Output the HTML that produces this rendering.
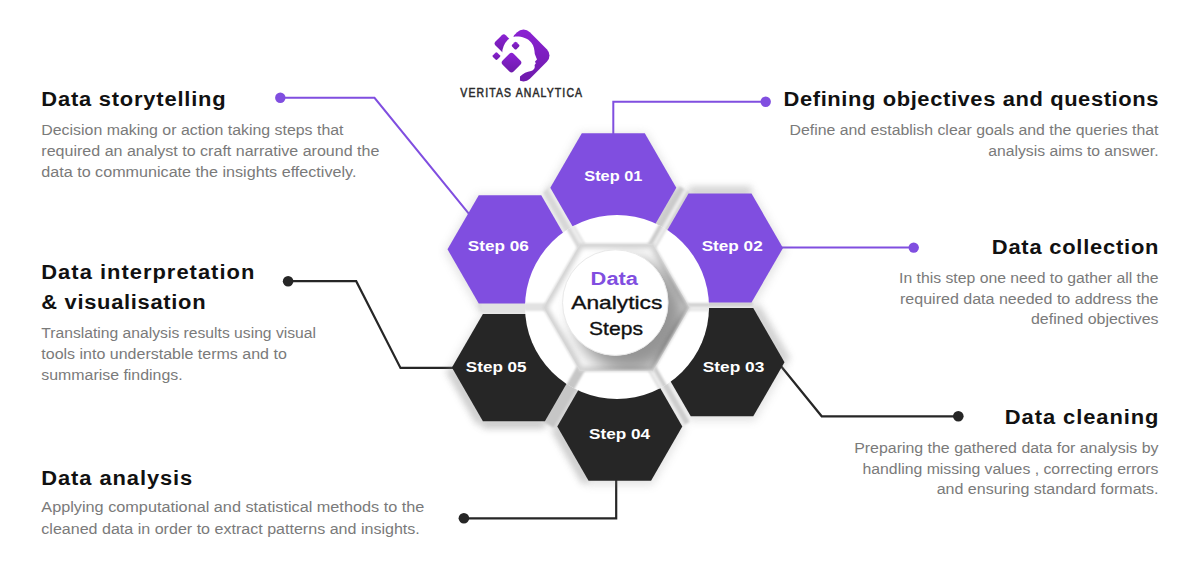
<!DOCTYPE html>
<html><head><meta charset="utf-8"><style>
html,body{margin:0;padding:0;background:#fff;width:1200px;height:569px;overflow:hidden}
svg{display:block;font-family:"Liberation Sans",sans-serif}
</style></head><body>
<svg width="1200" height="569" viewBox="0 0 1200 569">
<defs>
<filter id="blur1" x="-20%" y="-20%" width="140%" height="140%"><feGaussianBlur stdDeviation="1"/></filter>
<filter id="blur2" x="-20%" y="-20%" width="140%" height="140%"><feGaussianBlur stdDeviation="2.5"/></filter>
<filter id="blur3" x="-30%" y="-30%" width="160%" height="160%"><feGaussianBlur stdDeviation="3.5"/></filter>
<filter id="blur4" x="-30%" y="-30%" width="160%" height="160%"><feGaussianBlur stdDeviation="4"/></filter>
<filter id="cshadow" x="-40%" y="-40%" width="180%" height="180%"><feGaussianBlur stdDeviation="9"/></filter>
<clipPath id="disk"><circle cx="617" cy="307" r="92"/></clipPath>
<linearGradient id="chg" x1="0.2" y1="0.1" x2="0.8" y2="0.9"><stop offset="0" stop-color="#f2f2f2"/><stop offset="0.5" stop-color="#e2e2e2"/><stop offset="1" stop-color="#c4c4c4"/></linearGradient>
<linearGradient id="logog" x1="0" y1="0" x2="1" y2="1"><stop offset="0" stop-color="#8d22d6"/><stop offset="1" stop-color="#6c1aa8"/></linearGradient>
</defs>
<polyline points="280.3,97.8 374.5,97.8 469.2,214.1" fill="none" stroke="#804ee0" stroke-width="2"/>
<circle cx="280.3" cy="97.8" r="5.2" fill="#804ee0"/>
<polyline points="765.7,101.8 613.3,101.8 613.3,140" fill="none" stroke="#804ee0" stroke-width="2"/>
<circle cx="765.7" cy="101.8" r="5.2" fill="#804ee0"/>
<polyline points="913.7,247.6 775,247.6" fill="none" stroke="#804ee0" stroke-width="2"/>
<circle cx="913.7" cy="247.6" r="5.2" fill="#804ee0"/>
<polyline points="958.3,416.3 821.7,416.3 776,360" fill="none" stroke="#262626" stroke-width="2.2"/>
<circle cx="958.3" cy="416.3" r="5.3" fill="#262626"/>
<polyline points="288.1,281.2 356.2,281.2 400.5,367.9 460,367.9" fill="none" stroke="#262626" stroke-width="2.2"/>
<circle cx="288.1" cy="281.2" r="5.3" fill="#262626"/>
<polyline points="463.9,518.3 616.2,518.3 616.2,470" fill="none" stroke="#262626" stroke-width="2.2"/>
<circle cx="463.9" cy="518.3" r="5.3" fill="#262626"/>
<g filter="url(#blur4)" opacity="0.22">
<polygon points="679.30,189.80 646.30,246.96 580.30,246.96 547.30,189.80 580.30,132.64 646.30,132.64" fill="#8a8a8a"/>
<polygon points="786.00,250.00 753.00,307.16 687.00,307.16 654.00,250.00 687.00,192.84 753.00,192.84" fill="#8a8a8a"/>
<polygon points="787.50,364.20 754.75,420.92 689.25,420.92 656.50,364.20 689.25,307.48 754.75,307.48" fill="#8a8a8a"/>
<polygon points="685.30,428.50 652.55,485.22 587.05,485.22 554.30,428.50 587.05,371.78 652.55,371.78" fill="#8a8a8a"/>
<polygon points="578.90,369.60 546.40,425.89 481.40,425.89 448.90,369.60 481.40,313.31 546.40,313.31" fill="#8a8a8a"/>
<polygon points="575.50,251.30 542.75,308.02 477.25,308.02 444.50,251.30 477.25,194.58 542.75,194.58" fill="#8a8a8a"/>
</g>
<g filter="url(#blur3)" opacity="0.38">
<line x1="678.90" y1="189.30" x2="647.40" y2="243.86" stroke="#8a8a8a" stroke-width="8"/>
<line x1="579.20" y1="243.86" x2="547.70" y2="189.30" stroke="#8a8a8a" stroke-width="8"/>
<line x1="688.50" y1="190.44" x2="751.50" y2="190.44" stroke="#8a8a8a" stroke-width="8"/>
<line x1="755.85" y1="306.57" x2="787.10" y2="360.70" stroke="#8a8a8a" stroke-width="8"/>
<line x1="585.95" y1="482.13" x2="554.70" y2="428.00" stroke="#8a8a8a" stroke-width="8"/>
<line x1="554.70" y1="425.00" x2="585.95" y2="370.87" stroke="#8a8a8a" stroke-width="8"/>
<line x1="544.90" y1="424.29" x2="482.90" y2="424.29" stroke="#8a8a8a" stroke-width="8"/>
<line x1="480.30" y1="422.79" x2="449.30" y2="369.10" stroke="#8a8a8a" stroke-width="8"/>
<line x1="541.25" y1="306.43" x2="478.75" y2="306.43" stroke="#8a8a8a" stroke-width="8"/>
</g>
<g filter="url(#blur1)"><line x1="686.50" y1="307.00" x2="752.50" y2="307.00" stroke="#d0d0d0" stroke-width="10"/>
<line x1="686.50" y1="308.50" x2="752.50" y2="308.50" stroke="#ececec" stroke-width="4"/>
<line x1="651.50" y1="367.62" x2="684.50" y2="424.78" stroke="#cdcdcd" stroke-width="12"/>
<line x1="650.20" y1="368.37" x2="683.20" y2="425.53" stroke="#ececec" stroke-width="4"/>
<line x1="581.50" y1="367.62" x2="548.50" y2="424.78" stroke="#c6c6c6" stroke-width="12"/>
<line x1="546.50" y1="307.00" x2="480.50" y2="307.00" stroke="#e2e2e2" stroke-width="10"/>
<line x1="581.50" y1="246.38" x2="548.50" y2="189.22" stroke="#d8d8d8" stroke-width="12"/>
<line x1="582.80" y1="245.63" x2="549.80" y2="188.47" stroke="#ececec" stroke-width="4"/>
<line x1="651.50" y1="246.38" x2="684.50" y2="189.22" stroke="#cbcbcb" stroke-width="12"/>
<line x1="652.80" y1="247.13" x2="685.80" y2="189.97" stroke="#ececec" stroke-width="4"/></g>
<polygon points="676.30,187.80 644.80,242.36 581.80,242.36 550.30,187.80 581.80,133.24 644.80,133.24" fill="#804ee0"/>
<polygon points="783.00,248.00 751.50,302.56 688.50,302.56 657.00,248.00 688.50,193.44 751.50,193.44" fill="#804ee0"/>
<polygon points="784.50,362.20 753.25,416.33 690.75,416.33 659.50,362.20 690.75,308.07 753.25,308.07" fill="#262626"/>
<polygon points="682.30,426.50 651.05,480.63 588.55,480.63 557.30,426.50 588.55,372.37 651.05,372.37" fill="#262626"/>
<polygon points="575.90,367.60 544.90,421.29 482.90,421.29 451.90,367.60 482.90,313.91 544.90,313.91" fill="#262626"/>
<polygon points="572.50,249.30 541.25,303.43 478.75,303.43 447.50,249.30 478.75,195.17 541.25,195.17" fill="#804ee0"/>
<circle cx="617" cy="307" r="92" fill="#ffffff"/>
<g clip-path="url(#disk)"><g filter="url(#blur1)"><line x1="686.50" y1="307.00" x2="752.50" y2="307.00" stroke="#d0d0d0" stroke-width="8"/>
<line x1="686.50" y1="308.50" x2="752.50" y2="308.50" stroke="#ececec" stroke-width="4"/>
<line x1="651.50" y1="367.62" x2="684.50" y2="424.78" stroke="#cdcdcd" stroke-width="9"/>
<line x1="650.20" y1="368.37" x2="683.20" y2="425.53" stroke="#ececec" stroke-width="4"/>
<line x1="581.50" y1="367.62" x2="548.50" y2="424.78" stroke="#c6c6c6" stroke-width="9"/>
<line x1="546.50" y1="307.00" x2="480.50" y2="307.00" stroke="#e2e2e2" stroke-width="8"/>
<line x1="581.50" y1="246.38" x2="548.50" y2="189.22" stroke="#d8d8d8" stroke-width="9"/>
<line x1="582.80" y1="245.63" x2="549.80" y2="188.47" stroke="#ececec" stroke-width="4"/>
<line x1="651.50" y1="246.38" x2="684.50" y2="189.22" stroke="#cbcbcb" stroke-width="9"/>
<line x1="652.80" y1="247.13" x2="685.80" y2="189.97" stroke="#ececec" stroke-width="4"/></g></g>
<clipPath id="chclip"><polygon points="689.50,307.50 653.00,370.72 580.00,370.72 543.50,307.50 580.00,244.28 653.00,244.28"/></clipPath>
<polygon points="689.50,307.50 653.00,370.72 580.00,370.72 543.50,307.50 580.00,244.28 653.00,244.28" fill="#ffffff"/>
<g clip-path="url(#chclip)">
<polygon points="689.50,307.50 653.00,370.72 580.00,370.72 543.50,307.50 580.00,244.28 653.00,244.28" fill="none" stroke="#d2d2d2" stroke-width="8" filter="url(#blur2)"/>
<circle cx="630" cy="316" r="56" fill="#000" opacity="0.42" filter="url(#cshadow)"/>
</g>
<polygon points="689.50,307.50 653.00,370.72 580.00,370.72 543.50,307.50 580.00,244.28 653.00,244.28" fill="none" stroke="#d6d6d6" stroke-width="2" filter="url(#blur1)"/>
<circle cx="615.3" cy="302.6" r="52.8" fill="#ffffff" stroke="#e9e9e9" stroke-width="1"/>
<text x="613.3" y="180.8" font-size="15.5" fill="#ffffff" font-weight="bold" text-anchor="middle" textLength="58" lengthAdjust="spacingAndGlyphs">Step 01</text>
<text x="732.2" y="251.0" font-size="15.5" fill="#ffffff" font-weight="bold" text-anchor="middle" textLength="61" lengthAdjust="spacingAndGlyphs">Step 02</text>
<text x="733.5" y="371.9" font-size="15.5" fill="#ffffff" font-weight="bold" text-anchor="middle" textLength="61.5" lengthAdjust="spacingAndGlyphs">Step 03</text>
<text x="619.5" y="438.8" font-size="15.5" fill="#ffffff" font-weight="bold" text-anchor="middle" textLength="61" lengthAdjust="spacingAndGlyphs">Step 04</text>
<text x="496.2" y="371.8" font-size="15.5" fill="#ffffff" font-weight="bold" text-anchor="middle" textLength="60.7" lengthAdjust="spacingAndGlyphs">Step 05</text>
<text x="498.3" y="251.0" font-size="15.5" fill="#ffffff" font-weight="bold" text-anchor="middle" textLength="61" lengthAdjust="spacingAndGlyphs">Step 06</text>
<text x="614.3" y="284.7" font-size="17.5" fill="#804ee0" font-weight="bold" text-anchor="middle" textLength="47.4" lengthAdjust="spacingAndGlyphs">Data</text>
<text stroke="#111" stroke-width="0.35" x="616.8" y="309.3" font-size="19" fill="#111" font-weight="normal" text-anchor="middle" textLength="91.2" lengthAdjust="spacingAndGlyphs">Analytics</text>
<text stroke="#111" stroke-width="0.35" x="616.0" y="334.7" font-size="19" fill="#111" font-weight="normal" text-anchor="middle" textLength="53.9" lengthAdjust="spacingAndGlyphs">Steps</text>
<text transform="translate(41.3,105.9) scale(1.07,1)" x="0" y="0" font-size="20.5" fill="#111111" font-weight="bold" text-anchor="start" textLength="172.24" lengthAdjust="spacing">Data storytelling</text>
<text x="41.3" y="135.4" font-size="14" fill="#7a7a7a" font-weight="normal" text-anchor="start" textLength="302.2" lengthAdjust="spacingAndGlyphs">Decision making or action taking steps that</text>
<text x="41.3" y="156.4" font-size="14" fill="#7a7a7a" font-weight="normal" text-anchor="start" textLength="338.1" lengthAdjust="spacingAndGlyphs">required an analyst to craft narrative around the</text>
<text x="41.3" y="177.1" font-size="14" fill="#7a7a7a" font-weight="normal" text-anchor="start" textLength="315.1" lengthAdjust="spacingAndGlyphs">data to communicate the insights effectively.</text>
<text transform="translate(41.3,279.2) scale(1.07,1)" x="0" y="0" font-size="20.5" fill="#111111" font-weight="bold" text-anchor="start" textLength="199.07" lengthAdjust="spacing">Data interpretation</text>
<text transform="translate(41.3,309.2) scale(1.07,1)" x="0" y="0" font-size="20.5" fill="#111111" font-weight="bold" text-anchor="start" textLength="153.55" lengthAdjust="spacing">&amp; visualisation</text>
<text x="41.3" y="338.4" font-size="14" fill="#7a7a7a" font-weight="normal" text-anchor="start" textLength="274.7" lengthAdjust="spacingAndGlyphs">Translating analysis results using visual</text>
<text x="41.3" y="359.3" font-size="14" fill="#7a7a7a" font-weight="normal" text-anchor="start" textLength="245.5" lengthAdjust="spacingAndGlyphs">tools into understable terms and to</text>
<text x="41.3" y="380.2" font-size="14" fill="#7a7a7a" font-weight="normal" text-anchor="start" textLength="141.3" lengthAdjust="spacingAndGlyphs">summarise findings.</text>
<text transform="translate(41.3,485.2) scale(1.07,1)" x="0" y="0" font-size="20.5" fill="#111111" font-weight="bold" text-anchor="start" textLength="141.12" lengthAdjust="spacing">Data analysis</text>
<text x="41.3" y="512.3" font-size="14" fill="#7a7a7a" font-weight="normal" text-anchor="start" textLength="383" lengthAdjust="spacingAndGlyphs">Applying computational and statistical methods to the</text>
<text x="41.3" y="534.0" font-size="14" fill="#7a7a7a" font-weight="normal" text-anchor="start" textLength="378.5" lengthAdjust="spacingAndGlyphs">cleaned data in order to extract patterns and insights.</text>
<text transform="translate(1158.5,106.2) scale(1.07,1)" x="0" y="0" font-size="20.5" fill="#111111" font-weight="bold" text-anchor="end" textLength="350.47" lengthAdjust="spacing">Defining objectives and questions</text>
<text x="1158.5" y="135.0" font-size="14" fill="#7a7a7a" font-weight="normal" text-anchor="end" textLength="369" lengthAdjust="spacingAndGlyphs">Define and establish clear goals and the queries that</text>
<text x="1158.5" y="155.7" font-size="14" fill="#7a7a7a" font-weight="normal" text-anchor="end" textLength="170.2" lengthAdjust="spacingAndGlyphs">analysis aims to answer.</text>
<text transform="translate(1158.5,254.3) scale(1.07,1)" x="0" y="0" font-size="20.5" fill="#111111" font-weight="bold" text-anchor="end" textLength="155.79" lengthAdjust="spacing">Data collection</text>
<text x="1158.5" y="283.0" font-size="14" fill="#7a7a7a" font-weight="normal" text-anchor="end" textLength="259.5" lengthAdjust="spacingAndGlyphs">In this step one need to gather all the</text>
<text x="1158.5" y="304.0" font-size="14" fill="#7a7a7a" font-weight="normal" text-anchor="end" textLength="258.5" lengthAdjust="spacingAndGlyphs">required data needed to address the</text>
<text x="1158.5" y="324.3" font-size="14" fill="#7a7a7a" font-weight="normal" text-anchor="end" textLength="127.5" lengthAdjust="spacingAndGlyphs">defined objectives</text>
<text transform="translate(1158.5,424.2) scale(1.07,1)" x="0" y="0" font-size="20.5" fill="#111111" font-weight="bold" text-anchor="end" textLength="143.64" lengthAdjust="spacing">Data cleaning</text>
<text x="1158.5" y="453.0" font-size="14" fill="#7a7a7a" font-weight="normal" text-anchor="end" textLength="304.3" lengthAdjust="spacingAndGlyphs">Preparing the gathered data for analysis by</text>
<text x="1158.5" y="473.7" font-size="14" fill="#7a7a7a" font-weight="normal" text-anchor="end" textLength="296" lengthAdjust="spacingAndGlyphs">handling missing values , correcting errors</text>
<text x="1158.5" y="494.4" font-size="14" fill="#7a7a7a" font-weight="normal" text-anchor="end" textLength="221.8" lengthAdjust="spacingAndGlyphs">and ensuring standard formats.</text>
<mask id="mhead" maskUnits="userSpaceOnUse" x="470" y="15" width="100" height="90">
<rect x="470" y="15" width="100" height="90" fill="#fff"/>
<path d="M470,15 L514,15 L513.6,36.9 C517,35.8 527,36.5 531.4,42.8 C534,46 534.5,50 534.8,54 L537,59.5 L535,61.5 L535.8,63.5 L534.6,65 L534.8,67 C534.5,69 533,70.5 531,71 C527,71.5 523,73.5 520,76.5 L519.5,105 L470,105 Z" fill="#000"/>
</mask>
<mask id="mback" maskUnits="userSpaceOnUse" x="470" y="15" width="100" height="90">
<rect x="470" y="15" width="100" height="90" fill="#fff"/>
<circle cx="521.5" cy="53.5" r="19.3" fill="#000"/>
</mask>
<g fill="url(#logog)">
<g mask="url(#mhead)"><rect x="502.5" y="34.5" width="42" height="42" rx="9" transform="rotate(45 523.5 55.5)"/></g>
<g mask="url(#mback)"><rect x="496.55" y="36.35" width="14.5" height="14.5" rx="2.8" transform="rotate(45 503.8 43.6)"/></g>
<rect x="512.5" y="42.6" width="6.2" height="6.2" rx="1.3" transform="rotate(45 515.6 45.7)"/>
<rect x="493.3" y="53" width="6.2" height="6.2" rx="1.3" transform="rotate(45 496.4 56.1)"/>
<rect x="503.75" y="54.95" width="15.5" height="15.5" rx="3" transform="rotate(45 511.5 62.7)"/>
</g>
<text transform="translate(521.2,96.7) scale(0.86,1)" x="0" y="0" font-size="12.2" fill="#2b2b2b" stroke="#2b2b2b" stroke-width="0.5" text-anchor="middle" textLength="141.6" lengthAdjust="spacing">VERITAS ANALYTICA</text>
</svg>
</body></html>
